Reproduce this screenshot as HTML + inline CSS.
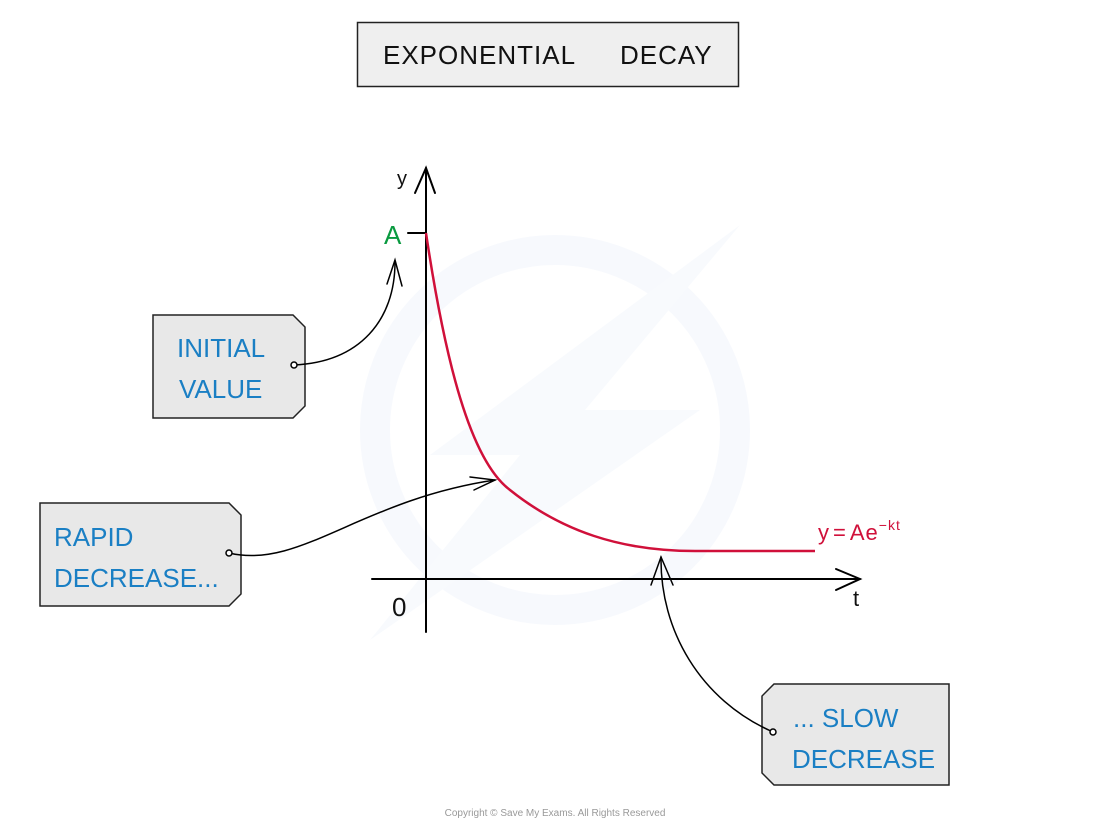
<!DOCTYPE html>
<html><head><meta charset="utf-8"><style>
html,body{margin:0;padding:0;background:#fff;}
svg{display:block;font-family:"Liberation Sans",sans-serif;}
</style></head><body>
<svg width="1100" height="830" viewBox="0 0 1100 830" xmlns="http://www.w3.org/2000/svg">
<!-- watermark -->
<circle cx="555" cy="430" r="180" fill="none" stroke="#f7f9fd" stroke-width="30"/>
<polygon points="740,225 585,410 700,410 370,640 520,455 430,455" fill="#f8fafd"/>
<!-- title -->
<rect x="357.5" y="22.5" width="381" height="64" fill="#efefef" stroke="#222" stroke-width="1.5"/>
<text x="383" y="64" font-size="26" fill="#111" letter-spacing="1">EXPONENTIAL</text>
<text x="620" y="64" font-size="26" fill="#111" letter-spacing="1">DECAY</text>
<!-- axes -->
<g stroke="#000" stroke-width="2" fill="none" stroke-linecap="round">
<line x1="426" y1="168" x2="426" y2="632"/>
<polyline points="415,193 426,168 435,193"/>
<line x1="408" y1="233" x2="426" y2="233"/>
<line x1="372" y1="579" x2="860" y2="579"/>
<polyline points="836,569 860,579 836,590"/>
</g>
<text x="397" y="185" font-size="20" fill="#111">y</text>
<text x="384" y="244" font-size="26" fill="#0a9a40">A</text>
<text x="392" y="616" font-size="26" fill="#111">0</text>
<text x="853" y="606" font-size="22" fill="#111">t</text>
<!-- curve -->
<path fill="none" stroke="#d0103a" stroke-width="2.5" d="M426,233 C445,360 470,460 510,490 C560,530 620,552 700,551 L815,551"/>
<text x="818" y="540" font-size="22" fill="#d0103a" letter-spacing="1">y<tspan dx="3">=</tspan><tspan dx="3">Ae</tspan><tspan font-size="14" dy="-10">−kt</tspan></text>
<!-- boxes -->
<g fill="#e8e8e8" stroke="#222" stroke-width="1.5">
<polygon points="153,315 293,315 305,327 305,406 293,418 153,418"/>
<polygon points="40,503 229,503 241,515 241,594 229,606 40,606"/>
<polygon points="774,684 949,684 949,785 774,785 762,773 762,696"/>
</g>
<g font-size="26" fill="#1a7fc4">
<text x="177" y="357">INITIAL</text>
<text x="179" y="398">VALUE</text>
<text x="54" y="546">RAPID</text>
<text x="54" y="587">DECREASE...</text>
<text x="793" y="727">... SLOW</text>
<text x="792" y="768">DECREASE</text>
</g>
<!-- connectors -->
<g fill="none" stroke="#000" stroke-width="1.5" stroke-linecap="round">
<path d="M294,365 C360,362 395,320 395,262"/>
<polyline points="387,284 395,260 402,286"/>
<path d="M229,553 C300,570 360,500 495,480"/>
<polyline points="470,477 495,480 474,490"/>
<path d="M773,732 C700,700 660,630 661,557"/>
<polyline points="651,585 661,557 673,585"/>
</g>
<g fill="#fff" stroke="#000" stroke-width="1.5">
<circle cx="294" cy="365" r="3"/>
<circle cx="229" cy="553" r="3"/>
<circle cx="773" cy="732" r="3"/>
</g>
<text x="555" y="816" font-size="10" fill="#999" text-anchor="middle">Copyright © Save My Exams. All Rights Reserved</text>
</svg>
</body></html>
